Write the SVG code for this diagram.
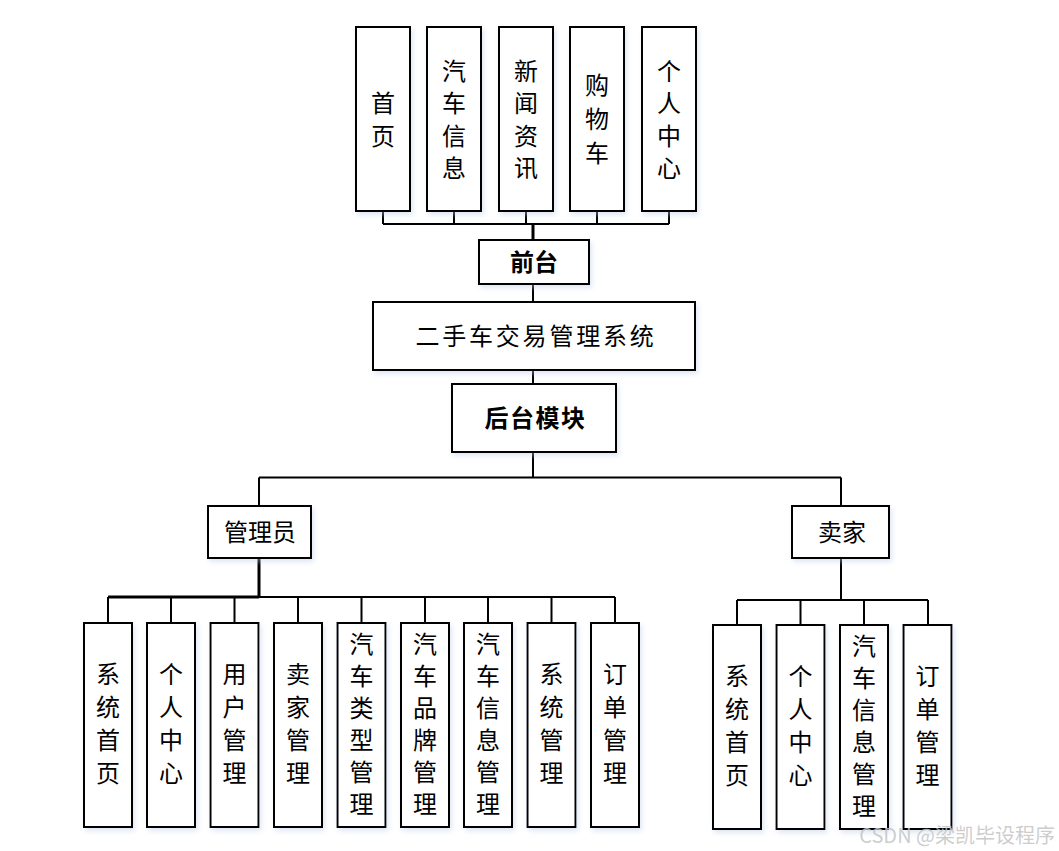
<svg xmlns="http://www.w3.org/2000/svg" width="1059" height="851" viewBox="0 0 1059 851">
<defs>
<filter id="sh" x="-20%" y="-20%" width="140%" height="140%">
<feDropShadow dx="2" dy="3" stdDeviation="2.5" flood-color="#b9cbe8" flood-opacity="0.45"/>
</filter>
<style>
.box{fill:#fff;stroke:#000;stroke-width:2;filter:url(#sh)}
.ln{fill:none;stroke:#000;stroke-width:2}
.bl{fill:none;stroke:#000;stroke-width:3}
.t{font-family:"Noto Sans CJK SC","Noto Sans",sans-serif;font-size:24px;fill:#000;text-anchor:middle;dominant-baseline:central;transform:translateY(-2px)}
.tb{font-family:"Noto Sans CJK SC","Noto Sans",sans-serif;font-size:24px;font-weight:bold;fill:#000;text-anchor:middle;dominant-baseline:central;transform:translateY(-2px)}
.wm{font-family:"Noto Sans CJK SC","Liberation Sans",sans-serif;font-size:20px;fill:#c4c4c4;fill-opacity:0.85;text-anchor:end;dominant-baseline:central}
</style>
</defs>
<rect width="1059" height="851" fill="#fff"/>
<g id="connectors">
<path class="ln" d="M383 211V224M454 211V224M526 211V224M597 211V224M669 211V224M383 224H669"/>
<path class="bl" d="M533 224V240"/>
<path class="ln" d="M533 284V302M533 370V384M533 452V477.5M259 477.5H841M259 477.5V506M841 477.5V506"/>
<path class="bl" d="M259 558V597M108 597H259"/>
<path class="ln" d="M259 597H615M108 597V623M171 597V623M234.5 597V623M298 597V623M361.5 597V623M425 597V623M488 597V623M551.5 597V623M615 597V623"/>
<path class="ln" d="M841 558V600M737 600H928M737 600V625M800.5 600V625M864 600V625M928 600V625"/>
</g>
<g id="n-home"><rect class="box" x="356" y="27" width="54" height="184"/><text class="t"><tspan x="383" y="102.5">首</tspan><tspan x="383" y="135.5">页</tspan></text></g>
<g id="n-carinfo"><rect class="box" x="427" y="27" width="54" height="184"/><text class="t"><tspan x="454" y="70.5">汽</tspan><tspan x="454" y="103">车</tspan><tspan x="454" y="135.5">信</tspan><tspan x="454" y="168">息</tspan></text></g>
<g id="n-news"><rect class="box" x="499" y="27" width="54" height="184"/><text class="t"><tspan x="526" y="70.5">新</tspan><tspan x="526" y="103">闻</tspan><tspan x="526" y="135.5">资</tspan><tspan x="526" y="168">讯</tspan></text></g>
<g id="n-cart"><rect class="box" x="570" y="27" width="54" height="184"/><text class="t"><tspan x="597" y="85">购</tspan><tspan x="597" y="119">物</tspan><tspan x="597" y="153">车</tspan></text></g>
<g id="n-personal"><rect class="box" x="642" y="27" width="54" height="184"/><text class="t"><tspan x="669" y="70.5">个</tspan><tspan x="669" y="103">人</tspan><tspan x="669" y="135.5">中</tspan><tspan x="669" y="168">心</tspan></text></g>
<g id="n-front"><rect class="box" x="479" y="240" width="110" height="44"/><text class="tb" x="534" y="262">前台</text></g>
<g id="n-system"><rect class="box" x="373" y="302" width="322" height="68"/><text class="t" x="536" y="336" font-size="24" letter-spacing="2.8">二手车交易管理系统</text></g>
<g id="n-back"><rect class="box" x="452" y="384" width="164" height="68"/><text class="tb" x="535.5" y="418" font-size="25" letter-spacing="1.5">后台模块</text></g>
<g id="n-admin"><rect class="box" x="208" y="506" width="103" height="52"/><text class="t" x="260" y="532" font-size="24">管理员</text></g>
<g id="n-seller"><rect class="box" x="792" y="506" width="97" height="52"/><text class="t" x="842" y="532" font-size="24">卖家</text></g>
<g id="a-home"><rect class="box" x="84" y="623" width="48" height="204"/><text class="t"><tspan x="108" y="673.5">系</tspan><tspan x="108" y="706.5">统</tspan><tspan x="108" y="739.5">首</tspan><tspan x="108" y="772.5">页</tspan></text></g>
<g id="a-personal"><rect class="box" x="147" y="623" width="48" height="204"/><text class="t"><tspan x="171" y="673.5">个</tspan><tspan x="171" y="706.5">人</tspan><tspan x="171" y="739.5">中</tspan><tspan x="171" y="772.5">心</tspan></text></g>
<g id="a-user"><rect class="box" x="210.5" y="623" width="48" height="204"/><text class="t"><tspan x="234.5" y="673.5">用</tspan><tspan x="234.5" y="706.5">户</tspan><tspan x="234.5" y="739.5">管</tspan><tspan x="234.5" y="772.5">理</tspan></text></g>
<g id="a-seller"><rect class="box" x="274" y="623" width="48" height="204"/><text class="t"><tspan x="298" y="673.5">卖</tspan><tspan x="298" y="706.5">家</tspan><tspan x="298" y="739.5">管</tspan><tspan x="298" y="772.5">理</tspan></text></g>
<g id="a-cartype"><rect class="box" x="337.5" y="623" width="48" height="204"/><text class="t"><tspan x="361.5" y="643.5">汽</tspan><tspan x="361.5" y="675.5">车</tspan><tspan x="361.5" y="707.5">类</tspan><tspan x="361.5" y="739.5">型</tspan><tspan x="361.5" y="771.5">管</tspan><tspan x="361.5" y="803.5">理</tspan></text></g>
<g id="a-brand"><rect class="box" x="401" y="623" width="48" height="204"/><text class="t"><tspan x="425" y="643.5">汽</tspan><tspan x="425" y="675.5">车</tspan><tspan x="425" y="707.5">品</tspan><tspan x="425" y="739.5">牌</tspan><tspan x="425" y="771.5">管</tspan><tspan x="425" y="803.5">理</tspan></text></g>
<g id="a-carinfo"><rect class="box" x="464" y="623" width="48" height="204"/><text class="t"><tspan x="488" y="643.5">汽</tspan><tspan x="488" y="675.5">车</tspan><tspan x="488" y="707.5">信</tspan><tspan x="488" y="739.5">息</tspan><tspan x="488" y="771.5">管</tspan><tspan x="488" y="803.5">理</tspan></text></g>
<g id="a-sysmgmt"><rect class="box" x="527.5" y="623" width="48" height="204"/><text class="t"><tspan x="551.5" y="673.5">系</tspan><tspan x="551.5" y="706.5">统</tspan><tspan x="551.5" y="739.5">管</tspan><tspan x="551.5" y="772.5">理</tspan></text></g>
<g id="a-order"><rect class="box" x="591" y="623" width="48" height="204"/><text class="t"><tspan x="615" y="673.5">订</tspan><tspan x="615" y="706.5">单</tspan><tspan x="615" y="739.5">管</tspan><tspan x="615" y="772.5">理</tspan></text></g>
<g id="s-home"><rect class="box" x="713" y="625" width="48" height="204"/><text class="t"><tspan x="737" y="676">系</tspan><tspan x="737" y="709">统</tspan><tspan x="737" y="742">首</tspan><tspan x="737" y="775">页</tspan></text></g>
<g id="s-personal"><rect class="box" x="776.5" y="625" width="48" height="204"/><text class="t"><tspan x="800.5" y="676">个</tspan><tspan x="800.5" y="709">人</tspan><tspan x="800.5" y="742">中</tspan><tspan x="800.5" y="775">心</tspan></text></g>
<g id="s-carinfo"><rect class="box" x="840" y="625" width="48" height="204"/><text class="t"><tspan x="864" y="645.5">汽</tspan><tspan x="864" y="677.5">车</tspan><tspan x="864" y="709.5">信</tspan><tspan x="864" y="741.5">息</tspan><tspan x="864" y="773.5">管</tspan><tspan x="864" y="805.5">理</tspan></text></g>
<g id="s-order"><rect class="box" x="903.5" y="625" width="48" height="204"/><text class="t"><tspan x="927.5" y="676">订</tspan><tspan x="927.5" y="709">单</tspan><tspan x="927.5" y="742">管</tspan><tspan x="927.5" y="775">理</tspan></text></g>
<text class="wm" x="1055" y="834">CSDN @梁凯毕设程序</text>
</svg>
